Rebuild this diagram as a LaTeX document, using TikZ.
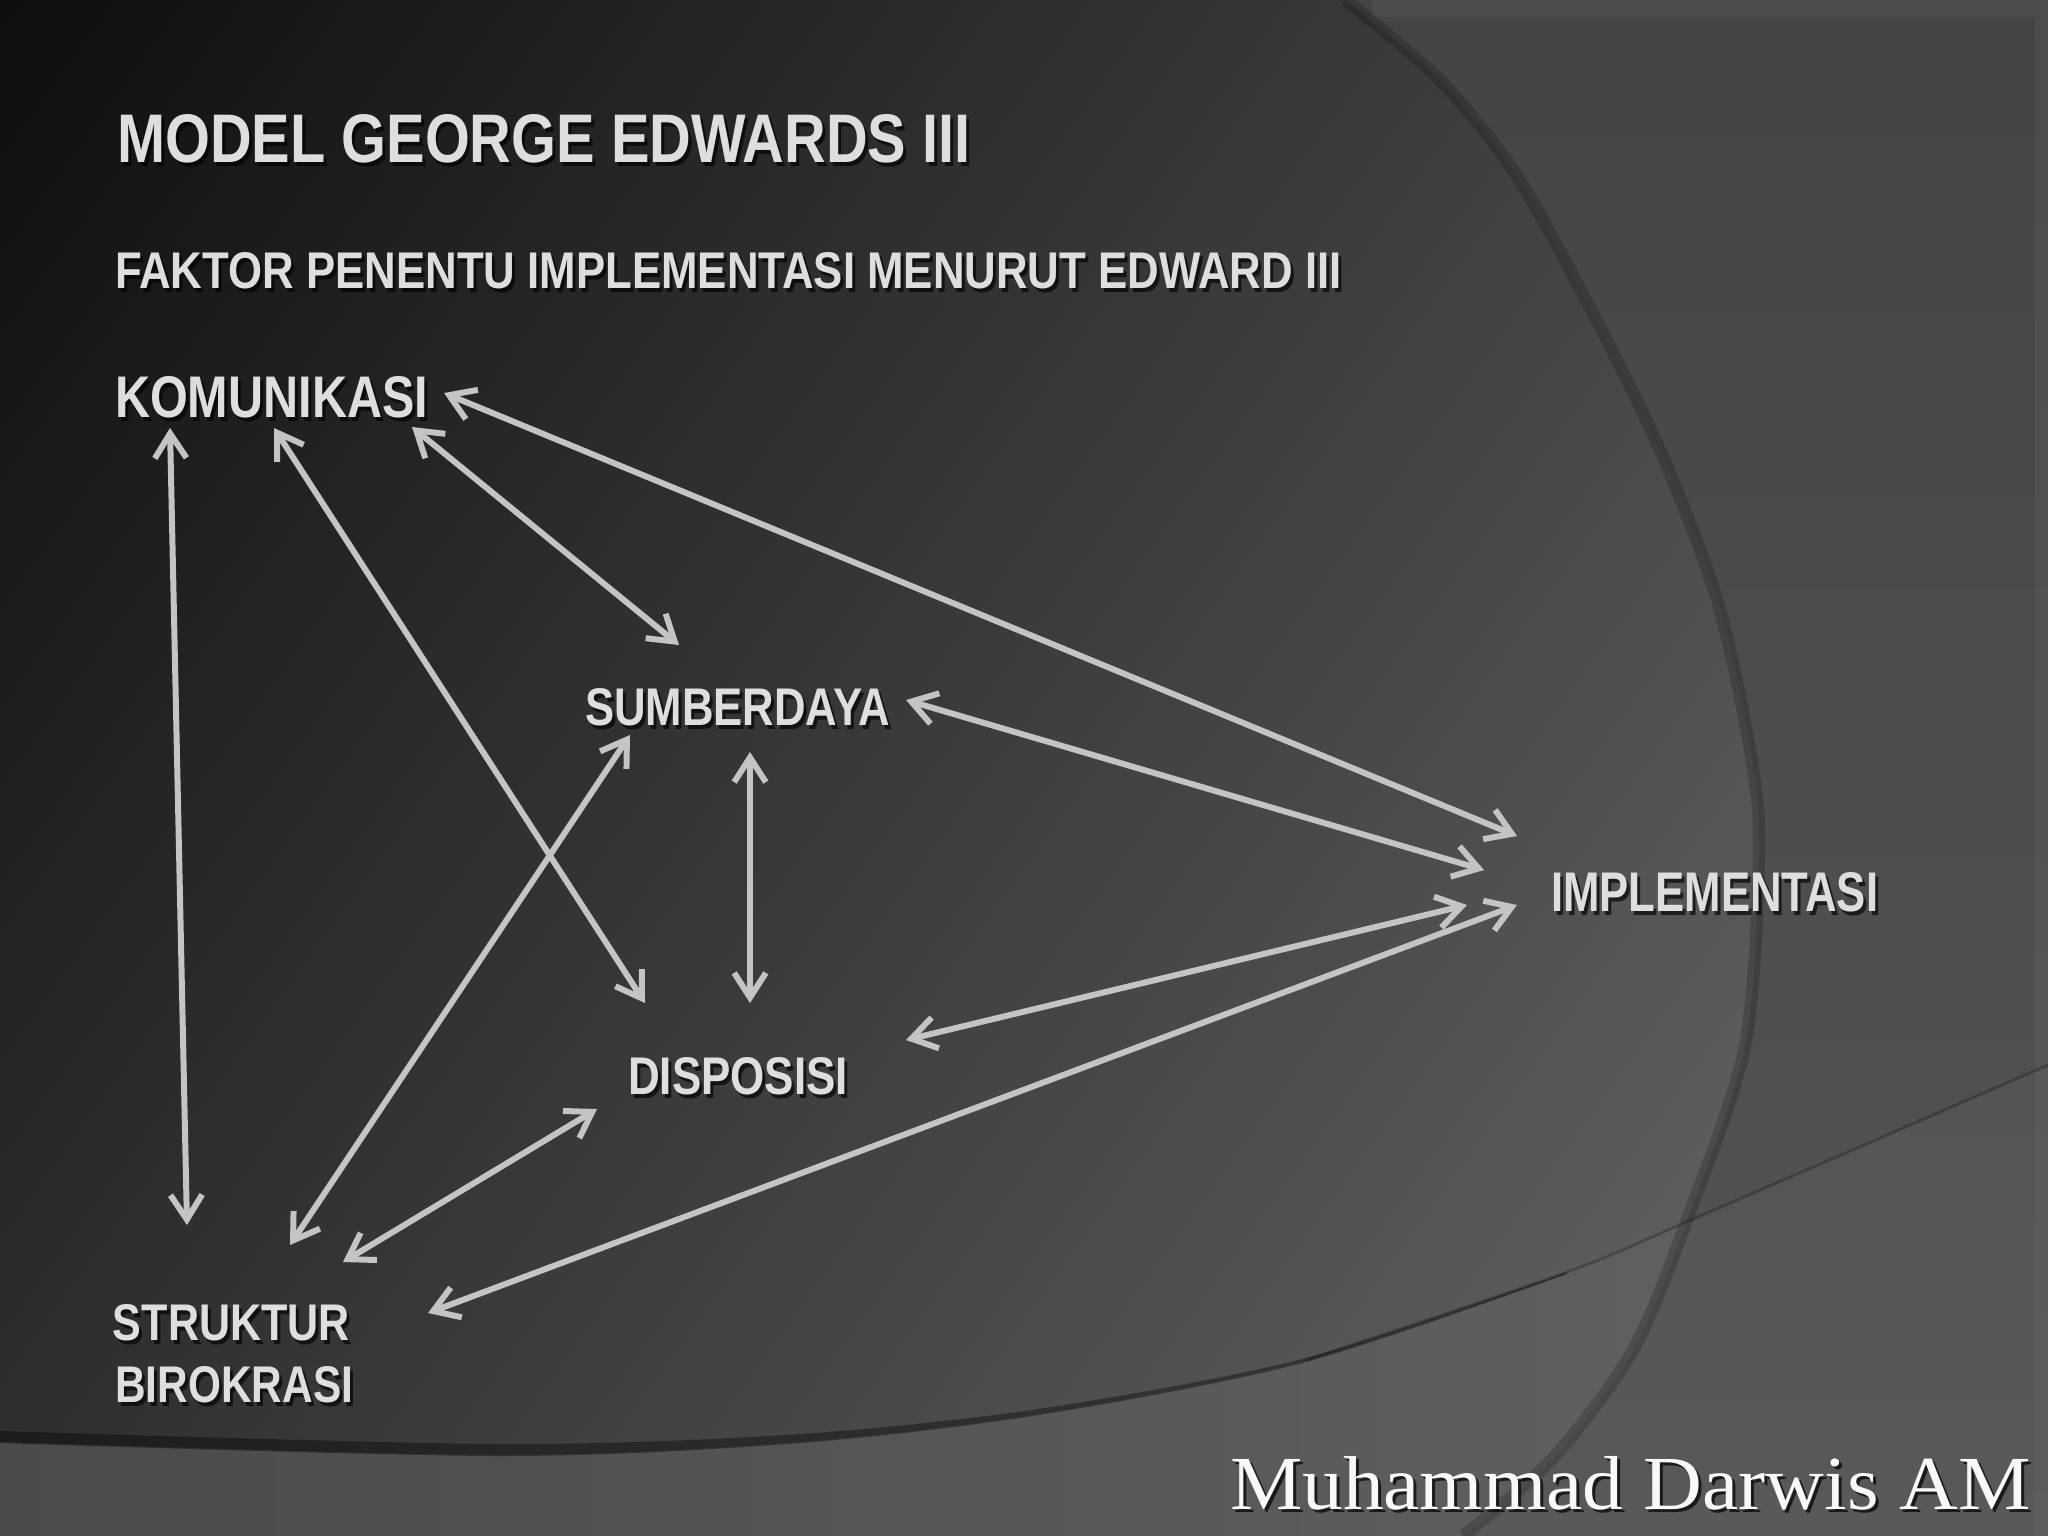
\documentclass[tikz,border=0pt]{standalone}
\usepackage{fontspec}
\setmainfont{Liberation Sans}
\newfontfamily\sigfont{Liberation Serif}
\usepackage{graphicx}
\usetikzlibrary{arrows.meta,shadings}
\definecolor{arrowgray}{HTML}{C4C4C4}
\definecolor{txtgray}{HTML}{DEDEDE}
\definecolor{sigwhite}{HTML}{F8F8F8}
\definecolor{bgA}{HTML}{0E0E0E}
\definecolor{bgB}{HTML}{444444}
\definecolor{bgC}{HTML}{303030}
\definecolor{bgD}{HTML}{666666}
\definecolor{rtop}{HTML}{444444}
\definecolor{rbot}{HTML}{555555}
\definecolor{bandL}{HTML}{4A4A4A}
\definecolor{bandR}{HTML}{646464}
\tikzset{
  Vb/.tip={Straight Barb[length=0.1pt,width=0.1pt,sep=0pt] Straight Barb[length=7pt,width=9pt,sep=0pt]},
  lbl/.style={anchor=base west, inner sep=0pt, outer sep=0pt, text=txtgray, font=\bfseries},
  lblshadow/.style={anchor=base west, inner sep=0pt, outer sep=0pt, text=black, opacity=0.65, font=\bfseries},
  conn/.style={draw=arrowgray, line width=1.7pt, Vb-Vb},
}
% name, x, baseline, width(cm), height(cm), text
\newcommand\mylabel[6]{%
  \node[lblshadow] (#1-sh) at (#2+3,#3+4) {\resizebox{#4cm}{#5cm}{#6}};
  \node[lbl] (#1) at (#2,#3) {\resizebox{#4cm}{#5cm}{#6}};}
\begin{document}
\begin{tikzpicture}[x=0.01cm,y=-0.01cm]
\useasboundingbox (0,0) rectangle (2048,1536);
% right region
\shade[top color=rtop, bottom color=rbot] (0,0) rectangle (2048,1536);
\fill[white, opacity=0.04] (1372,0) rectangle (2048,17);
\fill[white, opacity=0.04] (2035,17) rectangle (2048,1536);
% left (inside arc) region
\shade[upper left=bgA, upper right=bgB, lower left=bgC, lower right=bgD]
  (0,0) -- plot[smooth] coordinates {(1345,0) (1362,13) (1443,83) (1515,173) (1586,300) (1660,450) (1717,600) (1750,750) (1759,850) (1745,1046) (1685,1225) (1633,1350) (1554,1457) (1463,1536)} -- (0,1536) -- cycle;
% bottom band inside arc
\begin{scope}
  \clip (0,0) -- plot[smooth] coordinates {(1345,0) (1362,13) (1443,83) (1515,173) (1586,300) (1660,450) (1717,600) (1750,750) (1759,850) (1745,1046) (1685,1225) (1633,1350) (1554,1457) (1463,1536)} -- (0,1536) -- cycle;
  \shade[left color=bandL, right color=bandR]
    plot[smooth] coordinates {(0,1442) (500,1455) (800,1442) (1045,1413) (1306,1361) (1567,1273) (1700,1217) (2048,1066)} -- (2048,1536) -- (0,1536) -- cycle;
\end{scope}
% bottom band outside arc
\begin{scope}
  \clip (2048,0) -- plot[smooth] coordinates {(1345,0) (1362,13) (1443,83) (1515,173) (1586,300) (1660,450) (1717,600) (1750,750) (1759,850) (1745,1046) (1685,1225) (1633,1350) (1554,1457) (1463,1536)} -- (2048,1536) -- cycle;
  \fill[white, opacity=0.025]
    plot[smooth] coordinates {(0,1442) (500,1455) (800,1442) (1045,1413) (1306,1361) (1567,1273) (1700,1217) (2048,1066)} -- (2048,1536) -- (0,1536) -- cycle;
\end{scope}
% band top edge (tapering dark shadow)
\fill[black, opacity=0.38]
  plot[smooth] coordinates {(0,1431) (500,1444) (800,1434) (1045,1408) (1306,1358) (1567,1272)}
  -- plot[smooth] coordinates {(1567,1274) (1306,1362) (1045,1414) (800,1443) (500,1456) (0,1443)} -- cycle;
\draw[black, opacity=0.22, line width=0.8pt]
  plot[smooth] coordinates {(1306,1360) (1567,1272) (1700,1216) (2048,1065)};
% arc dark line
\draw[black, opacity=0.18, line width=3.5pt]
  plot[smooth] coordinates {(1345,0) (1362,13) (1443,83) (1515,173) (1586,300) (1660,450) (1717,600) (1750,750) (1759,850) (1745,1046) (1685,1225) (1633,1350) (1554,1457) (1463,1536)};

% texts
\mylabel{title}{117}{162}{8.53}{0.48}{MODEL GEORGE EDWARDS III}
\mylabel{sub}{115}{288}{12.26}{0.36}{FAKTOR PENENTU IMPLEMENTASI MENURUT EDWARD III}
\mylabel{kom}{115}{417}{3.13}{0.41}{KOMUNIKASI}
\mylabel{sum}{585}{725}{3.05}{0.37}{SUMBERDAYA}
\mylabel{imp}{1551}{911}{3.27}{0.39}{IMPLEMENTASI}
\mylabel{dis}{628}{1094}{2.20}{0.37}{DISPOSISI}
\mylabel{str}{113}{1340}{2.37}{0.36}{STRUKTUR}
\mylabel{bir}{115}{1402}{2.38}{0.36}{BIROKRASI}
\node[lblshadow, opacity=0.7, font=\mdseries] (sig-sh) at (1233,1512) {\resizebox{8.00cm}{0.53cm}{\sigfont Muhammad Darwis AM}};
\node[lbl, text=sigwhite, font=\mdseries] (sig) at (1230,1509) {\resizebox{8.00cm}{0.53cm}{\sigfont Muhammad Darwis AM}};

% connector end points
\coordinate (k1) at (170,428);  \coordinate (s1) at (187,1225);
\coordinate (k2) at (274,428);  \coordinate (d2) at (645,1003);
\coordinate (k3) at (412,427);  \coordinate (u3) at (679,645);
\coordinate (k4) at (444,393);  \coordinate (i4) at (1517,836);
\coordinate (u5) at (906,700);  \coordinate (i5) at (1484,870);
\coordinate (u6) at (750,752);  \coordinate (d6) at (750,1003);
\coordinate (u7) at (630,735);  \coordinate (s7) at (290,1245);
\coordinate (d8) at (906,1040); \coordinate (i8) at (1467,905);
\coordinate (d9) at (597,1109); \coordinate (s9) at (343,1262);
\coordinate (s10) at (428,1313); \coordinate (i10) at (1517,905);

\draw[conn] (k1) -- (s1);
\draw[conn] (k2) -- (d2);
\draw[conn] (k3) -- (u3);
\draw[conn] (k4) -- (i4);
\draw[conn] (u5) -- (i5);
\draw[conn] (u6) -- (d6);
\draw[conn] (u7) -- (s7);
\draw[conn] (d8) -- (i8);
\draw[conn] (d9) -- (s9);
\draw[conn] (s10) -- (i10);
\end{tikzpicture}
\end{document}
